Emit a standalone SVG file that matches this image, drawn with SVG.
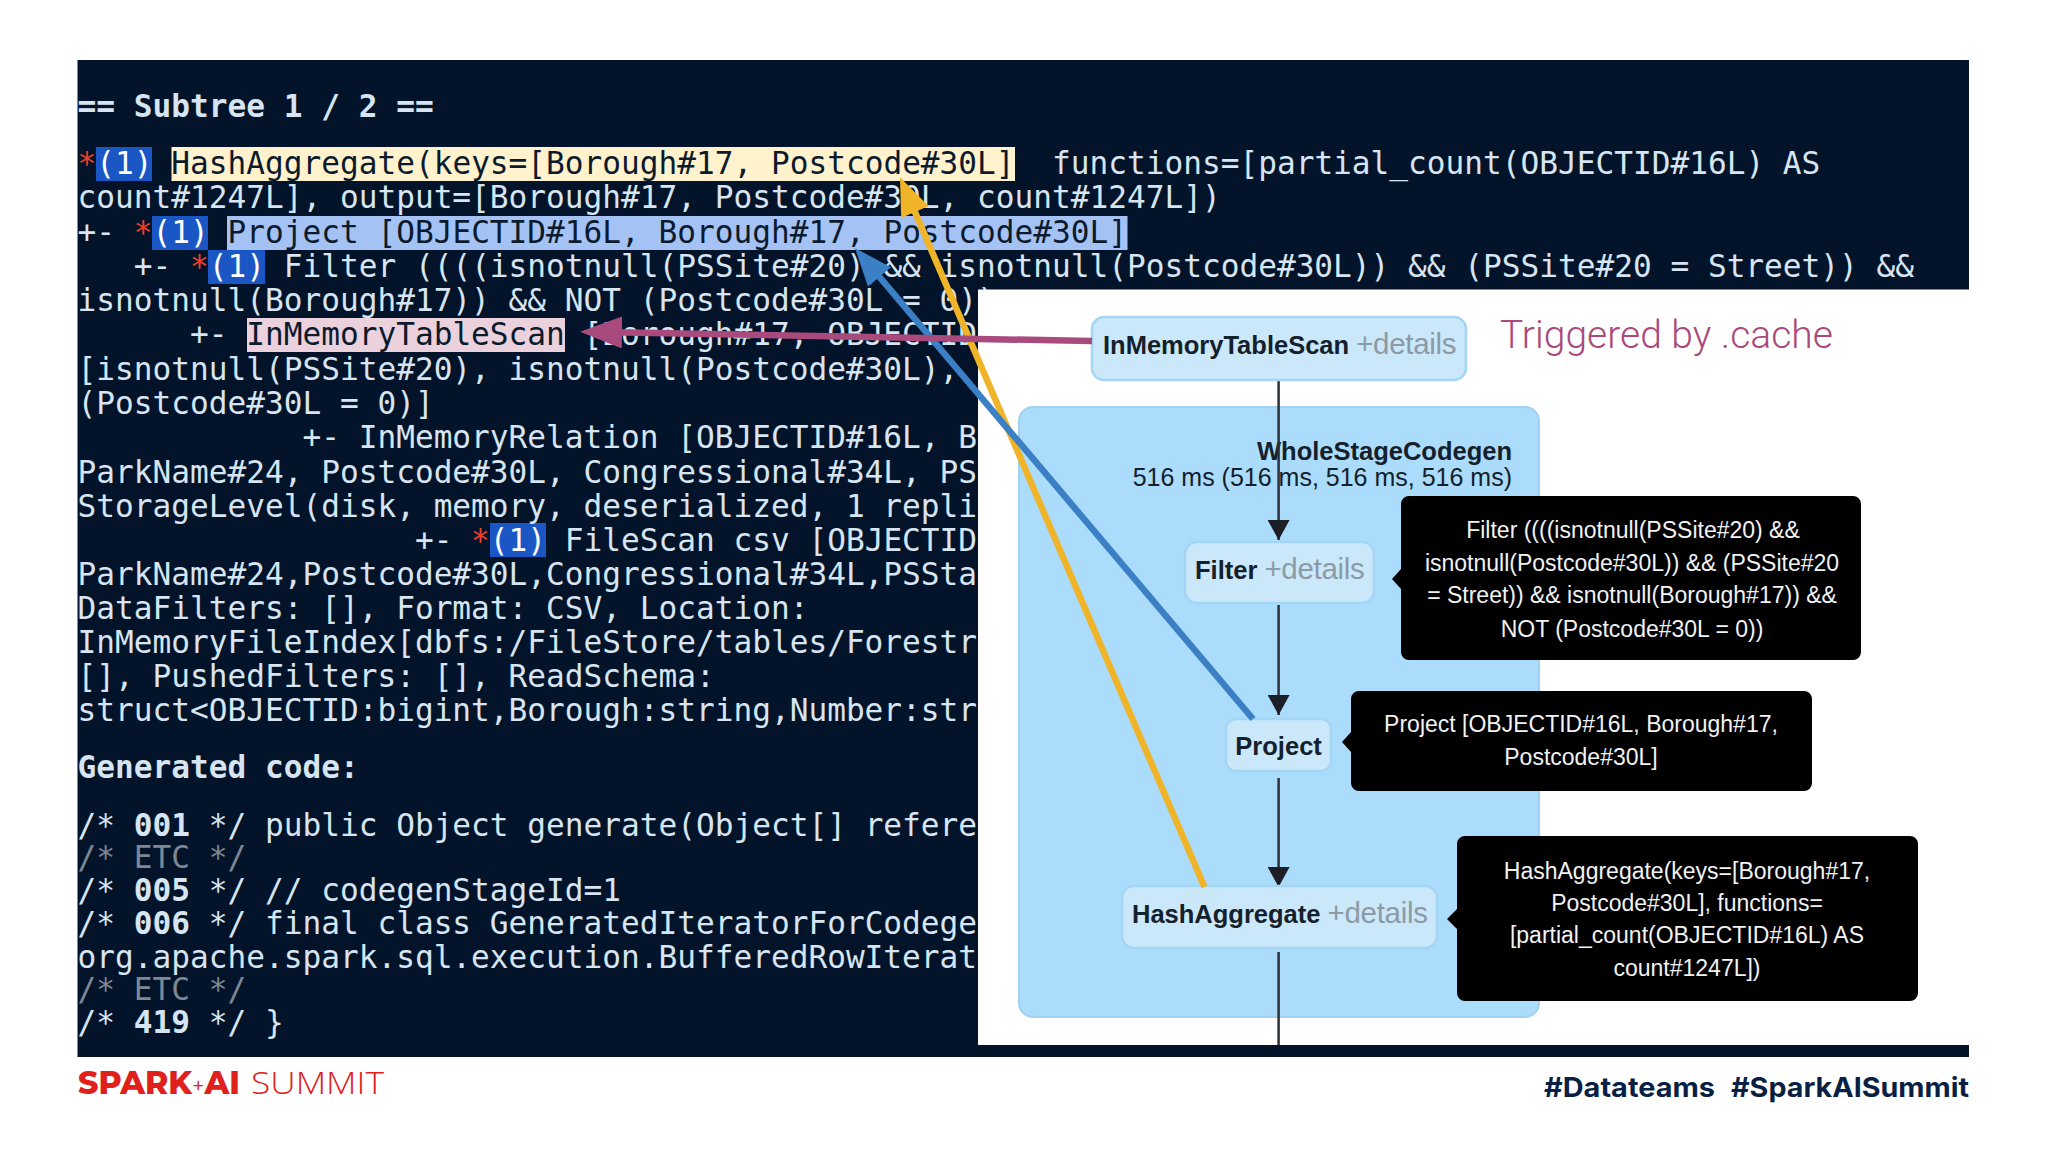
<svg xmlns="http://www.w3.org/2000/svg" width="2048" height="1152" viewBox="0 0 2048 1152">
<style>
.m{font-family:"DejaVu Sans Mono","Liberation Mono",monospace;font-size:31.13px;fill:#d7e4f1;white-space:pre}
.b{font-weight:bold}
.g{fill:#7d8894}
.w{fill:#fff}
.r{fill:#f0402c}
.d{fill:#0b1a2c}
.node{fill:#cbe8fb;stroke:#a3d6f5;stroke-width:2.5}
.nt{font-family:"Liberation Sans",Arial,sans-serif;font-size:25.5px;font-weight:bold;fill:#14202c}
.nn{font-weight:normal;font-size:25px}
.nd{font-weight:normal;fill:#8c9aa6;font-size:29.5px;letter-spacing:-.3px}
.tip{fill:#000}
.tt{font-family:"Liberation Sans",Arial,sans-serif;font-size:23px;fill:#f2f2f2;text-anchor:middle}
.edge{stroke:#2c3038;stroke-width:2.5;fill:none}
</style>
<defs>
<marker id="ah" markerUnits="userSpaceOnUse" markerWidth="20" markerHeight="22" refX="20" refY="11" orient="auto"><path d="M0,0L20,11L0,22z" fill="#1c2026"/></marker>
<marker id="py" markerUnits="userSpaceOnUse" markerWidth="38" markerHeight="30" refX="24" refY="15" orient="auto"><path d="M0,0L38,15L0,30z" fill="#f0b429"/></marker>
<marker id="pb" markerUnits="userSpaceOnUse" markerWidth="38" markerHeight="30" refX="24" refY="15" orient="auto"><path d="M0,0L38,15L0,30z" fill="#3b7fc4"/></marker>
<marker id="pp" markerUnits="userSpaceOnUse" markerWidth="42" markerHeight="32" refX="24" refY="16" orient="auto"><path d="M0,0L42,16L0,32z" fill="#a84a7c"/></marker>
</defs>
<rect width="2048" height="1152" fill="#fff"/>
<rect id="panel" x="77.5" y="60" width="1891.5" height="997" fill="#03142a"/>
<g id="highlights">
<rect x="96" y="147" width="56" height="34" fill="#1a56c4"/>
<rect x="171.5" y="147" width="843.5" height="34" fill="#fff2cc"/>
<rect x="152" y="216" width="56" height="34" fill="#1a56c4"/>
<rect x="227" y="216" width="900.5" height="34" fill="#a4c2f4"/>
<rect x="208" y="250" width="57" height="34" fill="#1a56c4"/>
<rect x="247" y="318" width="318" height="34" fill="#ead1dc"/>
<rect x="490" y="523" width="56" height="34" fill="#1a56c4"/>
</g>
<g id="code">
<text class="m b" x="77.6" y="117">== Subtree 1 / 2 ==</text>
<text class="m" x="77.6" y="174"><tspan class="r">*</tspan><tspan class="w">(1)</tspan> <tspan class="d">HashAggregate(keys=[Borough#17, Postcode#30L]</tspan>  functions=[partial_count(OBJECTID#16L) AS</text>
<text class="m" x="77.6" y="208">count#1247L], output=[Borough#17, Postcode#30L, count#1247L])</text>
<text class="m" x="77.6" y="243">+- <tspan class="r">*</tspan><tspan class="w">(1)</tspan> <tspan class="d">Project [OBJECTID#16L, Borough#17, Postcode#30L]</tspan></text>
<text class="m" x="77.6" y="277">   +- <tspan class="r">*</tspan><tspan class="w">(1)</tspan> Filter ((((isnotnull(PSSite#20) &amp;&amp; isnotnull(Postcode#30L)) &amp;&amp; (PSSite#20 = Street)) &amp;&amp;</text>
<text class="m" x="77.6" y="311">isnotnull(Borough#17)) &amp;&amp; NOT (Postcode#30L = 0))</text>
<text class="m" x="77.6" y="345">      +- <tspan class="d">InMemoryTableScan</tspan> [Borough#17, OBJECTID</text>
<text class="m" x="77.6" y="380">[isnotnull(PSSite#20), isnotnull(Postcode#30L),</text>
<text class="m" x="77.6" y="414">(Postcode#30L = 0)]</text>
<text class="m" x="77.6" y="448">            +- InMemoryRelation [OBJECTID#16L, B</text>
<text class="m" x="77.6" y="483">ParkName#24, Postcode#30L, Congressional#34L, PS</text>
<text class="m" x="77.6" y="517">StorageLevel(disk, memory, deserialized, 1 repli</text>
<text class="m" x="77.6" y="551">                  +- <tspan class="r">*</tspan><tspan class="w">(1)</tspan> FileScan csv [OBJECTID</text>
<text class="m" x="77.6" y="585">ParkName#24,Postcode#30L,Congressional#34L,PSSta</text>
<text class="m" x="77.6" y="619">DataFilters: [], Format: CSV, Location:</text>
<text class="m" x="77.6" y="653">InMemoryFileIndex[dbfs:/FileStore/tables/Forestr</text>
<text class="m" x="77.6" y="687">[], PushedFilters: [], ReadSchema:</text>
<text class="m" x="77.6" y="721">struct&lt;OBJECTID:bigint,Borough:string,Number:str</text>
<text class="m b" x="77.6" y="778">Generated code:</text>
<text class="m" x="77.6" y="836">/* <tspan class="b">001</tspan> */ public Object generate(Object[] refere</text>
<text class="m g" x="77.6" y="868">/* ETC */</text>
<text class="m" x="77.6" y="901">/* <tspan class="b">005</tspan> */ // codegenStageId=1</text>
<text class="m" x="77.6" y="934">/* <tspan class="b">006</tspan> */ final class GeneratedIteratorForCodege</text>
<text class="m" x="77.6" y="968">org.apache.spark.sql.execution.BufferedRowIterat</text>
<text class="m g" x="77.6" y="1000">/* ETC */</text>
<text class="m" x="77.6" y="1033">/* <tspan class="b">419</tspan> */ }</text>
</g>
<rect id="sheet" x="978" y="289.5" width="991" height="755.5" fill="#fff"/>
<g id="cluster">
<rect x="1019" y="407" width="520" height="610" rx="14" fill="#abdcfb" stroke="#9fd2f2" stroke-width="2"/>
<text class="nt" x="1512" y="460" text-anchor="end">WholeStageCodegen</text>
<text class="nt nn" x="1512" y="486" text-anchor="end">516 ms (516 ms, 516 ms, 516 ms)</text>
</g>
<g id="connectors">
<line class="edge" x1="1278.6" y1="380" x2="1278.6" y2="540" marker-end="url(#ah)"/>
<line class="edge" x1="1278.6" y1="605" x2="1278.6" y2="715" marker-end="url(#ah)"/>
<line class="edge" x1="1278.6" y1="778" x2="1278.6" y2="887" marker-end="url(#ah)"/>
<line class="edge" x1="1278.6" y1="952" x2="1278.6" y2="1045"/>
</g>
<g id="node-inmemory">
<rect class="node" x="1092" y="317" width="374" height="63" rx="12"/>
<text class="nt" x="1103" y="354">InMemoryTableScan <tspan class="nd">+details</tspan></text>
</g>
<g id="node-filter">
<rect class="node" x="1185" y="542" width="189" height="61" rx="12"/>
<text class="nt" x="1195" y="579">Filter <tspan class="nd">+details</tspan></text>
</g>
<g id="node-project">
<rect class="node" x="1226" y="719" width="105" height="52" rx="10"/>
<text class="nt" x="1278.6" y="755" text-anchor="middle">Project</text>
</g>
<g id="node-hash">
<rect class="node" x="1122" y="886" width="315" height="62" rx="12"/>
<text class="nt" x="1132" y="923">HashAggregate <tspan class="nd">+details</tspan></text>
</g>
<g id="tip-filter">
<path class="tip" d="M1409,496H1853a8,8 0 0 1 8,8V652a8,8 0 0 1 -8,8H1409a8,8 0 0 1 -8,-8V589L1392,579L1401,569V504a8,8 0 0 1 8,-8z"/>
<text class="tt" x="1633" y="538">Filter ((((isnotnull(PSSite#20) &amp;&amp;</text>
<text class="tt" x="1632" y="571">isnotnull(Postcode#30L)) &amp;&amp; (PSSite#20</text>
<text class="tt" x="1632" y="603">= Street)) &amp;&amp; isnotnull(Borough#17)) &amp;&amp;</text>
<text class="tt" x="1632" y="637">NOT (Postcode#30L = 0))</text>
</g>
<g id="tip-project">
<path class="tip" d="M1359,691H1804a8,8 0 0 1 8,8V783a8,8 0 0 1 -8,8H1359a8,8 0 0 1 -8,-8V752L1342,742L1351,732V699a8,8 0 0 1 8,-8z"/>
<text class="tt" x="1581" y="732">Project [OBJECTID#16L, Borough#17,</text>
<text class="tt" x="1581" y="765">Postcode#30L]</text>
</g>
<g id="tip-hash">
<path class="tip" d="M1465,836H1910a8,8 0 0 1 8,8V993a8,8 0 0 1 -8,8H1465a8,8 0 0 1 -8,-8V929L1447,919L1457,909V844a8,8 0 0 1 8,-8z"/>
<text class="tt" x="1687" y="879">HashAggregate(keys=[Borough#17,</text>
<text class="tt" x="1687" y="911">Postcode#30L], functions=</text>
<text class="tt" x="1687" y="943">[partial_count(OBJECTID#16L) AS</text>
<text class="tt" x="1687" y="976">count#1247L])</text>
</g>
<g id="note"><text x="1500" y="348" font-family="Roboto,sans-serif" font-size="39" font-weight="300" fill="#a84a7c">Triggered by .cache</text></g>
<g id="callouts" fill="none" stroke-width="6.5">
<line x1="1204.5" y1="887" x2="905.5" y2="190" stroke="#f0b429" marker-end="url(#py)"/>
<line x1="1253" y1="719" x2="864" y2="258.7" stroke="#3b7fc4" marker-end="url(#pb)"/>
<line x1="1092" y1="341" x2="598" y2="332" stroke="#a84a7c" stroke-width="6.5" marker-end="url(#pp)"/>
</g>
<g id="footer">
<text x="78" y="1094" font-family="Montserrat,'Open Sans',sans-serif" font-size="32" font-weight="800" fill="#e0201b" textLength="162" lengthAdjust="spacingAndGlyphs">SPARK<tspan font-size="22" font-weight="400">+</tspan>AI</text>
<text x="251" y="1094" font-family="'Open Sans',sans-serif" font-size="32" font-weight="300" fill="#e0201b" textLength="133" lengthAdjust="spacingAndGlyphs">SUMMIT</text>
<text x="1544" y="1097" font-family="Inter,'Open Sans',sans-serif" font-size="27" font-weight="700" fill="#0a1f44" textLength="171" lengthAdjust="spacingAndGlyphs">#Datateams</text>
<text x="1731" y="1097" font-family="Inter,'Open Sans',sans-serif" font-size="27" font-weight="700" fill="#0a1f44" textLength="238" lengthAdjust="spacingAndGlyphs">#SparkAISummit</text>
</g>
</svg>
